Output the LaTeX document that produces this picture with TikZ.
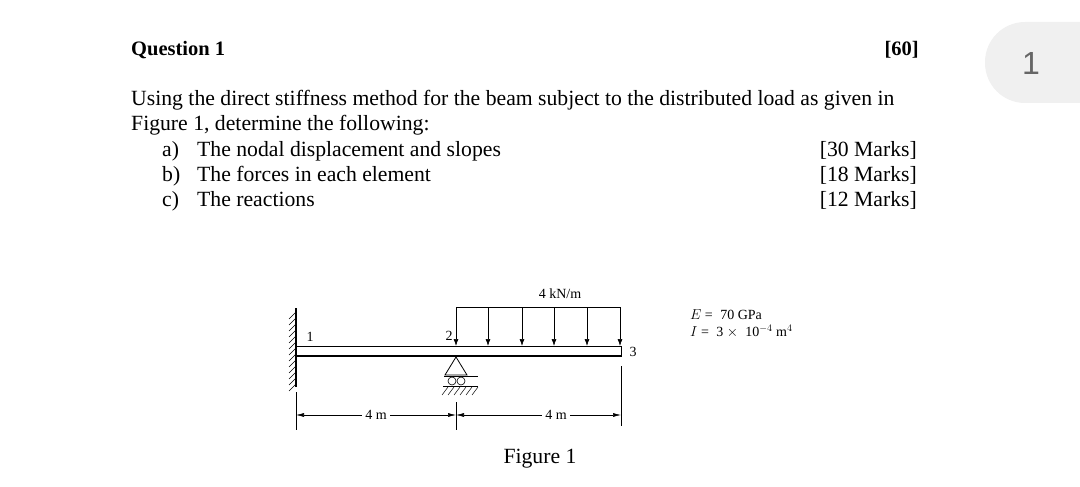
\documentclass[tikz,border=0pt]{standalone}
\usepackage{fontspec}
\setmainfont{Liberation Serif}
\newfontfamily\sansf{Liberation Sans}
\usetikzlibrary{arrows.meta}
\begin{document}
\begin{tikzpicture}[x=1pt,y=-1pt,
  body/.style={anchor=base west,font=\fontsize{21.7}{24}\selectfont,inner sep=0},
  marktxt/.style={anchor=base east,font=\fontsize{21.7}{24}\selectfont,inner sep=0},
  lbl/.style={font=\fontsize{14}{16}\selectfont,inner sep=0},
  ld/.style={-{Latex[length=7pt,width=5pt]},line width=0.7pt},
  dim/.style={{Latex[length=8pt,width=4pt]}-{Latex[length=8pt,width=4pt]},line width=0.6pt}]
\useasboundingbox (0,0) rectangle (1080,487);
\fill[gray!12] (985,22) [rounded corners=40pt] rectangle (1140,103);
\node[font=\sansf\fontsize{32}{34}\selectfont,text=gray!80!black] (pg) at (1031,63) {1};
\node[body,font=\bfseries\fontsize{20.5}{24}\selectfont] (q) at (131,56) {Question 1};
\node[marktxt,font=\bfseries\fontsize{20.5}{24}\selectfont] (m) at (919,56) {[60]};
\node[body] (t1) at (131,106) {Using the direct stiffness method for the beam subject to the distributed load as given in};
\node[body] (t2) at (131,131) {Figure 1, determine the following:};
\node[body] (a) at (162,156) {a)};
\node[body] (b) at (162,181) {b)};
\node[body] (c) at (162,206) {c)};
\node[body] (at) at (197,156) {The nodal displacement and slopes};
\node[body] (bt) at (197,181) {The forces in each element};
\node[body] (ct) at (197,206) {The reactions};
\node[marktxt] (ma) at (917,156) {[30 Marks]};
\node[marktxt] (mb) at (917,181) {[18 Marks]};
\node[marktxt] (mc) at (917,206) {[12 Marks]};
% beam
\draw[line width=0.8pt] (296,346) rectangle (621,356);
\draw[line width=1.3pt] (296,356) -- (621,356);
% wall
\draw[line width=1.2pt] (296,308) -- (296,387);
\foreach \y in {312,318,...,386} \draw[line width=0.5pt] (296,\y) -- (289,\y+7);
% load
\draw[line width=0.7pt] (456,307) -- (620,307);
\foreach \x in {456,488,522,554,587,620} \draw[ld] (\x,307) -- (\x,346);
\node[lbl] (w) at (560,294) {4 kN/m};
% support
\draw[line width=0.8pt] (456,357) -- (445,375) -- (467,375) -- cycle;
\draw[line width=0.6pt] (444,376) -- (478,376);
\draw[line width=0.6pt] (452,381) circle (4pt);
\draw[line width=0.6pt] (461,381) circle (4pt);
\draw[line width=0.6pt] (443,386) -- (478,386);
\foreach \x in {444,450,...,476} \draw[line width=0.5pt] (\x+4,387) -- (\x-2,395);
% labels
\node[lbl] (n1) at (310,337) {1};
\node[lbl] (n2) at (449,336) {2};
\node[lbl] (n3) at (633,352) {3};
% dims
\draw[line width=0.6pt] (296,392) -- (296,430);
\draw[line width=0.6pt] (456,402) -- (456,430);
\draw[line width=0.6pt] (621,366) -- (621,426);
\draw[dim] (296,415) -- (456,415);
\draw[dim] (456,415) -- (621,415);
\node[lbl,fill=white,inner sep=3pt] (d1) at (376,415) {4 m};
\node[lbl,fill=white,inner sep=3pt] (d2) at (556,415) {4 m};
\node[lbl,anchor=west] (E) at (690,315) {$E$ = \;70 GPa};
\node[lbl,anchor=west] (I) at (690,331) {$I$ = \;3 $\times$ \;10$^{-4}$ m$^4$};
\node[body,anchor=base] (fig) at (540,463) {Figure 1};
\end{tikzpicture}
\end{document}
